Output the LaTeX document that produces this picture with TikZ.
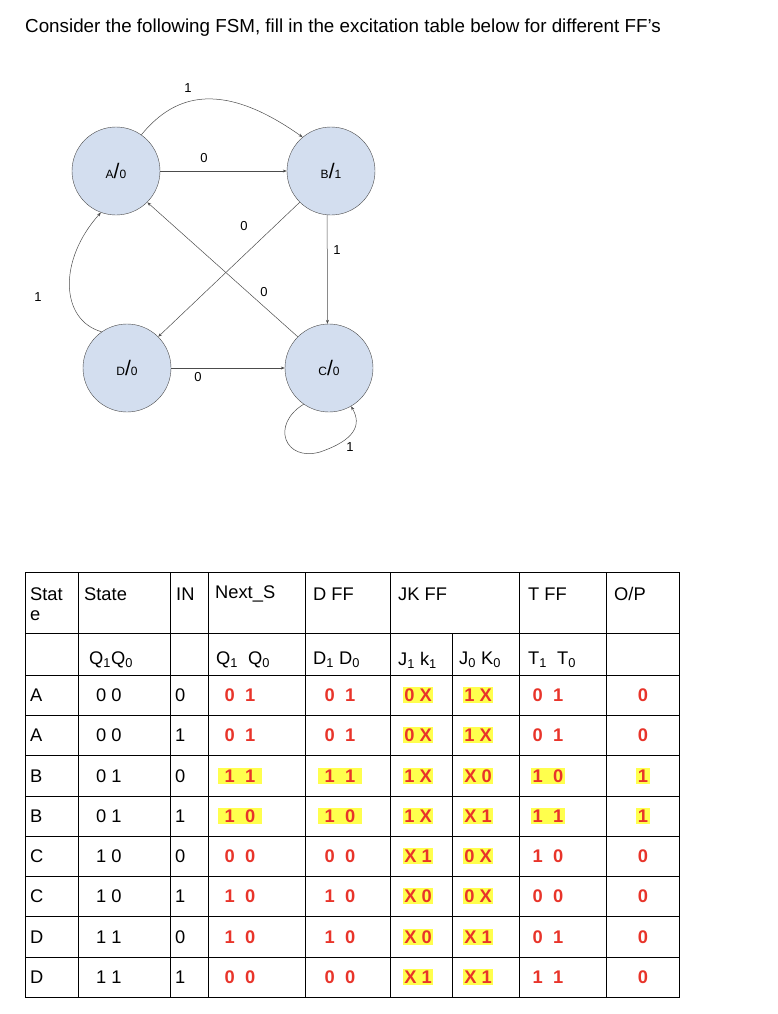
\documentclass[tikz,border=0pt]{standalone}
\usepackage{fontspec}
\setmainfont{Liberation Sans}
\usetikzlibrary{arrows.meta}
\definecolor{stfill}{HTML}{D3DEEF}
\definecolor{rd}{HTML}{E8342A}
\definecolor{hy}{HTML}{FFFF4D}
\newcommand{\hlx}[1]{\setlength{\fboxsep}{1.5pt}\colorbox{hy}{#1}}
\begin{document}
\begin{tikzpicture}[x=1pt,y=-1pt,
  st/.style={circle,draw=black!70,fill=stfill,minimum size=88pt,inner sep=0pt},
  ed/.style={draw=black!70,line width=0.5pt,-{Stealth[length=4pt,width=3pt]}},
  lb/.style={font=\fontsize{13}{15}\selectfont},
  tx/.style={font=\fontsize{18.3}{21}\selectfont,anchor=west,inner sep=0pt},
  val/.style={font=\fontsize{18.3}{21}\selectfont\bfseries,text=rd,inner sep=0pt},
  grid/.style={draw=black,line width=0.9pt}]
\useasboundingbox (0,0) rectangle (778,1014);
\node[anchor=west,inner sep=0pt,font=\fontsize{18.8}{22}\selectfont] (title) at (25,28) {Consider the following FSM, fill in the excitation table below for different FF’s};
% states
\node[st] (A) at (116,171) {{\fontsize{12}{14}\selectfont A}{\fontsize{21}{22}\selectfont/}{\fontsize{12}{14}\selectfont 0}};
\node[st] (B) at (331,171) {{\fontsize{12}{14}\selectfont B}{\fontsize{21}{22}\selectfont/}{\fontsize{12}{14}\selectfont 1}};
\node[st] (D) at (127,368) {{\fontsize{12}{14}\selectfont D}{\fontsize{21}{22}\selectfont/}{\fontsize{12}{14}\selectfont 0}};
\node[st] (C) at (329,368) {{\fontsize{12}{14}\selectfont C}{\fontsize{21}{22}\selectfont/}{\fontsize{12}{14}\selectfont 0}};
% edges
\draw[ed] (A.55) .. controls (170,100) and (215,75) .. (B.130);
\node[lb] (l1) at (188,88) {1};
\draw[ed] (A) -- (B);
\node[lb] (l2) at (204,158) {0};
\draw[ed] (B.225) -- (D.45);
\node[lb] (l3) at (244,226) {0};
\draw[ed] (C.135) -- (A.315);
\node[lb] (l4) at (264,292) {0};
\draw[ed] (B.265) -- (C.92);
\node[lb] (l5) at (337,250) {1};
\draw[ed] (D.125) .. controls (60,320) and (58,260) .. (A.250);
\node[lb] (l6) at (38,297) {1};
\draw[ed] (D) -- (C);
\node[lb] (l7) at (198,377) {0};
\draw[ed] (C.235) .. controls (270,425) and (285,462) .. (320,452) .. controls (355,440) and (362,425) .. (C.300);
\node[lb] (l8) at (350,447) {1};
% table grid
\draw[grid] (25,572) rectangle (679,997);
\foreach \y in {633,675,715,755,796,836,876,916,957} \draw[grid] (25,\y) -- (679,\y);
\foreach \x in {78,170,208,305,390,519,606} \draw[grid] (\x,572) -- (\x,997);
\draw[grid] (452,633) -- (452,997);
% header
\node[tx] (h1) at (30,594) {Stat};
\node[tx] (h1b) at (30,616) {e};
\node[tx] (h2) at (84,594) {State};
\node[tx] (h3) at (176,594) {IN};
\node[tx] (h4) at (215,594) {Next\_S};
\node[tx] (h5) at (313,594) {D FF};
\node[tx] (h6) at (398,594) {JK FF};
\node[tx] (h7) at (528,594) {T FF};
\node[tx] (h8) at (614,594) {O/P};
\node[tx] (s2) at (89,660) {Q\textsubscript{1}Q\textsubscript{0}};
\node[tx] (s4) at (216,660) {Q\textsubscript{1}\ \ Q\textsubscript{0}};
\node[tx] (s5) at (313,660) {D\textsubscript{1}\ D\textsubscript{0}};
\node[tx] (s6) at (398,660) {J\textsubscript{1} k\textsubscript{1}};
\node[tx] (s7) at (459,660) {J\textsubscript{0} K\textsubscript{0}};
\node[tx] (s8) at (528,660) {T\textsubscript{1}\ \ T\textsubscript{0}};
% rows
\foreach \y/\s/\q/\i/\n/\d/\ja/\jb/\t/\o [count=\k] in {
 695/A/0 0/0/0\ \ 1/0\ \ 1/0 X/1 X/0\ \ 1/0,
 735/A/0 0/1/0\ \ 1/0\ \ 1/0 X/1 X/0\ \ 1/0,
 776/B/0 1/0/\hlx{\ 1\ \ 1\ }/\hlx{\ 1\ \ 1\ }/1 X/X 0/\hlx{1\ \ 0}/\hlx{1},
 816/B/0 1/1/\hlx{\ 1\ \ 0\ }/\hlx{\ 1\ \ 0\ }/1 X/X 1/\hlx{1\ \ 1}/\hlx{1},
 856/C/1 0/0/0\ \ 0/0\ \ 0/X 1/0 X/1\ \ 0/0,
 896/C/1 0/1/1\ \ 0/1\ \ 0/X 0/0 X/0\ \ 0/0,
 937/D/1 1/0/1\ \ 0/1\ \ 0/X 0/X 1/0\ \ 1/0,
 977/D/1 1/1/0\ \ 0/0\ \ 0/X 1/X 1/1\ \ 1/0}{
  \node[tx] (r\k a) at (30,\y) {\s};
  \node[tx] (r\k b) at (96,\y) {\q};
  \node[tx] (r\k c) at (175,\y) {\i};
  \node[val] (r\k d) at (240,\y) {\n};
  \node[val] (r\k e) at (340,\y) {\d};
  \node[val] (r\k f) at (418,\y) {\hlx{\ja}};
  \node[val] (r\k g) at (478,\y) {\hlx{\jb}};
  \node[val] (r\k h) at (548,\y) {\t};
  \node[val] (r\k i) at (643,\y) {\o};
}
\end{tikzpicture}
\end{document}
